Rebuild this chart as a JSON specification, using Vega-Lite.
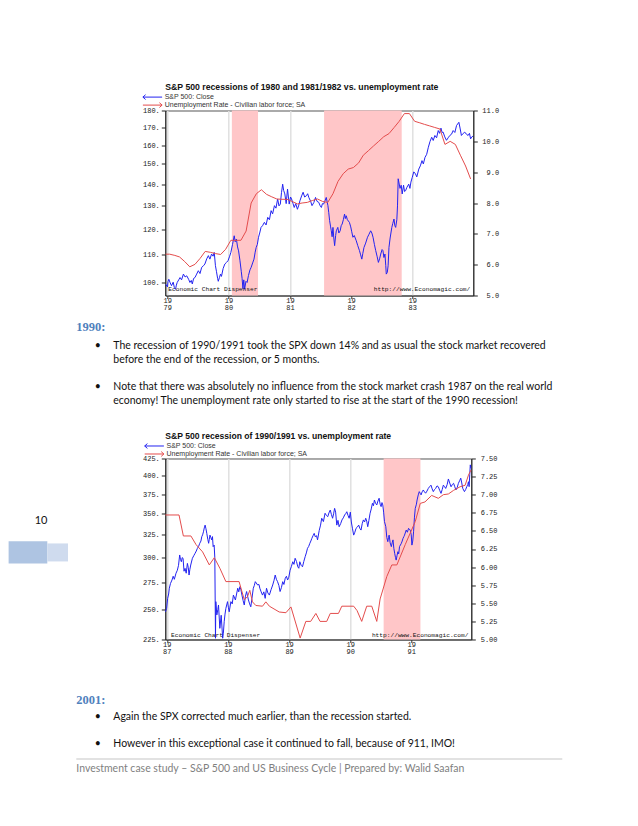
{
"$schema": "https://vega.github.io/schema/vega-lite/v6.json",
"padding": {"left": 8.3, "top": 81.5, "right": 0, "bottom": 0},
"background": "white",
"spacing": 0,
"bounds": "flush",
"config": {"view": {"stroke": null}},
"resolve": {"scale": {"color": "independent"}, "legend": {"color": "independent"}},
"datasets": {
"rec1": [{"start": "1980-01-21", "end": "1980-06-25"}, {"start": "1981-07-24", "end": "1982-10-30"}],
"rec2": [{"start": "1990-07-20", "end": "1991-02-25"}],
"sp1": [
{"date":"1978-12-22","close":99.5},{"date":"1979-01-02","close":98.6},{"date":"1979-01-05","close":100.4},{"date":"1979-01-10","close":101.2},{"date":"1979-01-18","close":100.0},{"date":"1979-01-26","close":99.0},{"date":"1979-02-05","close":100.2},{"date":"1979-02-12","close":98.4},{"date":"1979-02-19","close":97.8},{"date":"1979-02-24","close":99.2},{"date":"1979-03-01","close":100.1},{"date":"1979-03-10","close":101.0},{"date":"1979-03-18","close":101.8},{"date":"1979-03-27","close":101.0},{"date":"1979-04-07","close":103.0},{"date":"1979-04-17","close":102.0},{"date":"1979-04-27","close":102.4},{"date":"1979-05-08","close":101.2},{"date":"1979-05-16","close":100.1},{"date":"1979-05-24","close":100.8},{"date":"1979-05-30","close":99.6},{"date":"1979-06-07","close":101.5},{"date":"1979-06-15","close":101.8},{"date":"1979-06-25","close":103.0},{"date":"1979-07-05","close":104.2},{"date":"1979-07-15","close":103.2},{"date":"1979-07-25","close":105.4},{"date":"1979-08-05","close":106.0},{"date":"1979-08-13","close":106.6},{"date":"1979-08-24","close":108.5},{"date":"1979-09-03","close":109.7},{"date":"1979-09-12","close":108.4},{"date":"1979-09-22","close":110.3},{"date":"1979-10-01","close":109.5},{"date":"1979-10-08","close":110.9},{"date":"1979-10-15","close":106.0},{"date":"1979-10-21","close":104.0},{"date":"1979-10-28","close":101.5},{"date":"1979-11-01","close":100.5},{"date":"1979-11-08","close":101.8},{"date":"1979-11-14","close":103.0},{"date":"1979-11-20","close":102.2},{"date":"1979-11-30","close":105.0},{"date":"1979-12-10","close":106.6},{"date":"1979-12-20","close":107.2},{"date":"1979-12-29","close":107.8},{"date":"1980-01-08","close":109.5},{"date":"1980-01-15","close":110.9},{"date":"1980-01-25","close":114.0},{"date":"1980-02-04","close":117.4},{"date":"1980-02-10","close":115.0},{"date":"1980-02-17","close":116.1},{"date":"1980-02-24","close":113.0},{"date":"1980-03-01","close":111.5},{"date":"1980-03-09","close":108.0},{"date":"1980-03-17","close":104.0},{"date":"1980-03-22","close":101.5},{"date":"1980-03-27","close":98.0},{"date":"1980-04-01","close":101.0},{"date":"1980-04-06","close":97.8},{"date":"1980-04-14","close":100.5},{"date":"1980-04-21","close":100.1},{"date":"1980-04-29","close":102.5},{"date":"1980-05-08","close":104.5},{"date":"1980-05-15","close":105.4},{"date":"1980-05-24","close":107.0},{"date":"1980-06-01","close":108.4},{"date":"1980-06-08","close":111.0},{"date":"1980-06-14","close":112.8},{"date":"1980-06-21","close":114.0},{"date":"1980-06-28","close":116.8},{"date":"1980-07-05","close":118.5},{"date":"1980-07-13","close":120.8},{"date":"1980-07-22","close":121.5},{"date":"1980-08-02","close":122.9},{"date":"1980-08-12","close":121.8},{"date":"1980-08-22","close":125.0},{"date":"1980-09-01","close":124.0},{"date":"1980-09-11","close":127.9},{"date":"1980-09-20","close":126.5},{"date":"1980-10-01","close":130.1},{"date":"1980-10-10","close":129.0},{"date":"1980-10-20","close":133.1},{"date":"1980-10-28","close":130.0},{"date":"1980-11-05","close":130.8},{"date":"1980-11-12","close":136.0},{"date":"1980-11-19","close":140.0},{"date":"1980-11-25","close":137.0},{"date":"1980-12-02","close":135.4},{"date":"1980-12-10","close":131.0},{"date":"1980-12-18","close":137.7},{"date":"1980-12-28","close":130.8},{"date":"1981-01-05","close":134.0},{"date":"1981-01-11","close":133.1},{"date":"1981-01-20","close":131.0},{"date":"1981-01-27","close":129.3},{"date":"1981-02-05","close":131.0},{"date":"1981-02-15","close":128.5},{"date":"1981-02-22","close":130.0},{"date":"1981-03-02","close":132.3},{"date":"1981-03-12","close":134.5},{"date":"1981-03-21","close":136.2},{"date":"1981-03-30","close":134.0},{"date":"1981-04-10","close":134.6},{"date":"1981-04-17","close":135.5},{"date":"1981-04-24","close":133.8},{"date":"1981-05-05","close":132.0},{"date":"1981-05-13","close":130.1},{"date":"1981-05-24","close":131.5},{"date":"1981-06-03","close":133.8},{"date":"1981-06-12","close":132.0},{"date":"1981-06-22","close":131.6},{"date":"1981-07-01","close":130.0},{"date":"1981-07-08","close":129.3},{"date":"1981-07-14","close":131.0},{"date":"1981-07-21","close":130.8},{"date":"1981-07-28","close":132.0},{"date":"1981-08-06","close":133.8},{"date":"1981-08-16","close":130.1},{"date":"1981-08-21","close":127.0},{"date":"1981-08-26","close":123.6},{"date":"1981-09-01","close":121.0},{"date":"1981-09-05","close":119.4},{"date":"1981-09-10","close":117.0},{"date":"1981-09-15","close":120.8},{"date":"1981-09-20","close":116.5},{"date":"1981-09-25","close":113.5},{"date":"1981-10-01","close":117.5},{"date":"1981-10-05","close":119.4},{"date":"1981-10-14","close":120.8},{"date":"1981-10-20","close":118.5},{"date":"1981-10-28","close":119.4},{"date":"1981-11-03","close":121.5},{"date":"1981-11-09","close":122.2},{"date":"1981-11-16","close":124.0},{"date":"1981-11-23","close":126.4},{"date":"1981-11-28","close":124.5},{"date":"1981-12-03","close":125.7},{"date":"1981-12-10","close":124.0},{"date":"1981-12-22","close":122.9},{"date":"1981-12-30","close":121.0},{"date":"1982-01-05","close":119.0},{"date":"1982-01-12","close":116.8},{"date":"1982-01-20","close":117.5},{"date":"1982-02-01","close":115.4},{"date":"1982-02-10","close":113.5},{"date":"1982-02-20","close":111.6},{"date":"1982-02-27","close":110.0},{"date":"1982-03-06","close":108.4},{"date":"1982-03-12","close":110.5},{"date":"1982-03-19","close":112.8},{"date":"1982-03-29","close":114.5},{"date":"1982-04-09","close":116.8},{"date":"1982-04-18","close":118.0},{"date":"1982-04-28","close":119.4},{"date":"1982-05-05","close":118.5},{"date":"1982-05-12","close":116.8},{"date":"1982-05-20","close":114.0},{"date":"1982-05-28","close":111.6},{"date":"1982-06-05","close":109.5},{"date":"1982-06-13","close":107.2},{"date":"1982-06-20","close":108.5},{"date":"1982-06-27","close":110.3},{"date":"1982-07-05","close":112.0},{"date":"1982-07-10","close":111.6},{"date":"1982-07-16","close":109.0},{"date":"1982-07-22","close":110.3},{"date":"1982-07-27","close":106.0},{"date":"1982-07-30","close":103.0},{"date":"1982-08-05","close":103.6},{"date":"1982-08-10","close":106.0},{"date":"1982-08-15","close":112.8},{"date":"1982-08-22","close":116.5},{"date":"1982-09-01","close":120.8},{"date":"1982-09-07","close":122.5},{"date":"1982-09-14","close":124.3},{"date":"1982-09-19","close":121.5},{"date":"1982-09-24","close":120.8},{"date":"1982-10-01","close":124.0},{"date":"1982-10-05","close":130.0},{"date":"1982-10-09","close":142.6},{"date":"1982-10-20","close":138.0},{"date":"1982-10-27","close":139.5},{"date":"1982-11-02","close":135.4},{"date":"1982-11-10","close":139.5},{"date":"1982-11-16","close":136.5},{"date":"1982-11-22","close":136.9},{"date":"1982-11-30","close":138.5},{"date":"1982-12-11","close":140.0},{"date":"1982-12-18","close":138.0},{"date":"1982-12-24","close":141.0},{"date":"1983-01-01","close":143.3},{"date":"1983-01-10","close":146.0},{"date":"1983-01-20","close":145.0},{"date":"1983-01-28","close":143.5},{"date":"1983-02-09","close":147.4},{"date":"1983-02-18","close":149.0},{"date":"1983-02-28","close":151.7},{"date":"1983-03-08","close":150.0},{"date":"1983-03-18","close":153.4},{"date":"1983-03-28","close":155.0},{"date":"1983-04-07","close":158.8},{"date":"1983-04-17","close":162.0},{"date":"1983-04-27","close":164.3},{"date":"1983-05-06","close":162.5},{"date":"1983-05-16","close":165.3},{"date":"1983-05-26","close":164.0},{"date":"1983-06-05","close":168.1},{"date":"1983-06-13","close":166.5},{"date":"1983-06-21","close":169.5},{"date":"1983-06-28","close":167.0},{"date":"1983-07-04","close":167.2},{"date":"1983-07-14","close":164.5},{"date":"1983-07-24","close":162.6},{"date":"1983-08-03","close":164.0},{"date":"1983-08-13","close":165.3},{"date":"1983-08-23","close":166.0},{"date":"1983-09-02","close":168.1},{"date":"1983-09-12","close":167.0},{"date":"1983-09-22","close":171.0},{"date":"1983-10-06","close":172.9},{"date":"1983-10-14","close":169.0},{"date":"1983-10-21","close":165.3},{"date":"1983-11-01","close":166.5},{"date":"1983-11-10","close":167.2},{"date":"1983-11-20","close":166.0},{"date":"1983-11-30","close":165.3},{"date":"1983-12-08","close":166.5},{"date":"1983-12-15","close":163.4},{"date":"1983-12-22","close":164.5},{"date":"1983-12-29","close":164.9}
],
"ur1": [
{"date":"1978-12-22","rate":6.34},{"date":"1979-01-15","rate":6.34},{"date":"1979-02-15","rate":6.3},{"date":"1979-03-15","rate":6.25},{"date":"1979-04-15","rate":6.1},{"date":"1979-05-15","rate":5.93},{"date":"1979-06-15","rate":6.01},{"date":"1979-07-15","rate":6.2},{"date":"1979-08-15","rate":6.43},{"date":"1979-09-15","rate":6.4},{"date":"1979-10-15","rate":6.36},{"date":"1979-11-15","rate":6.33},{"date":"1979-12-15","rate":6.5},{"date":"1980-01-15","rate":6.79},{"date":"1980-02-15","rate":6.79},{"date":"1980-03-15","rate":6.79},{"date":"1980-04-15","rate":7.09},{"date":"1980-05-15","rate":8.0},{"date":"1980-06-15","rate":8.3},{"date":"1980-07-15","rate":8.43},{"date":"1980-08-15","rate":8.28},{"date":"1980-09-15","rate":8.2},{"date":"1980-10-15","rate":8.13},{"date":"1980-11-15","rate":8.12},{"date":"1980-12-15","rate":8.12},{"date":"1981-01-15","rate":8.05},{"date":"1981-02-15","rate":7.97},{"date":"1981-03-15","rate":8.0},{"date":"1981-04-15","rate":8.02},{"date":"1981-05-15","rate":8.08},{"date":"1981-06-15","rate":8.13},{"date":"1981-07-15","rate":8.05},{"date":"1981-08-15","rate":8.02},{"date":"1981-09-15","rate":8.3},{"date":"1981-10-15","rate":8.7},{"date":"1981-11-15","rate":8.95},{"date":"1981-12-15","rate":9.1},{"date":"1982-01-15","rate":9.15},{"date":"1982-02-15","rate":9.3},{"date":"1982-03-15","rate":9.55},{"date":"1982-04-15","rate":9.7},{"date":"1982-05-15","rate":9.85},{"date":"1982-06-15","rate":10.0},{"date":"1982-07-15","rate":10.15},{"date":"1982-08-15","rate":10.25},{"date":"1982-09-15","rate":10.45},{"date":"1982-10-15","rate":10.65},{"date":"1982-11-15","rate":10.9},{"date":"1982-12-15","rate":10.9},{"date":"1983-01-15","rate":10.65},{"date":"1983-02-15","rate":10.6},{"date":"1983-03-15","rate":10.55},{"date":"1983-04-15","rate":10.5},{"date":"1983-05-15","rate":10.45},{"date":"1983-06-15","rate":10.4},{"date":"1983-07-15","rate":9.9},{"date":"1983-08-15","rate":10.0},{"date":"1983-09-15","rate":9.9},{"date":"1983-10-15","rate":9.55},{"date":"1983-11-15","rate":9.2},{"date":"1983-12-15","rate":8.78}
],
"sp2": [
{"date":"1986-12-24","close":248},{"date":"1986-12-31","close":251},{"date":"1987-01-06","close":260},{"date":"1987-01-12","close":264},{"date":"1987-01-16","close":269.4},{"date":"1987-01-23","close":274},{"date":"1987-02-01","close":277.3},{"date":"1987-02-08","close":281},{"date":"1987-02-15","close":278},{"date":"1987-02-25","close":284},{"date":"1987-03-05","close":287},{"date":"1987-03-12","close":292},{"date":"1987-03-19","close":302.8},{"date":"1987-03-24","close":298},{"date":"1987-03-29","close":295.7},{"date":"1987-04-03","close":300},{"date":"1987-04-08","close":299.3},{"date":"1987-04-14","close":286},{"date":"1987-04-20","close":288.9},{"date":"1987-04-27","close":284},{"date":"1987-05-04","close":294},{"date":"1987-05-09","close":290},{"date":"1987-05-14","close":282.2},{"date":"1987-05-19","close":288},{"date":"1987-05-24","close":292.3},{"date":"1987-06-03","close":299.3},{"date":"1987-06-11","close":302},{"date":"1987-06-19","close":304.6},{"date":"1987-06-26","close":307},{"date":"1987-07-03","close":310},{"date":"1987-07-10","close":312},{"date":"1987-07-17","close":315.5},{"date":"1987-07-24","close":318},{"date":"1987-07-29","close":322.9},{"date":"1987-08-03","close":325},{"date":"1987-08-08","close":328.5},{"date":"1987-08-13","close":333},{"date":"1987-08-18","close":336.3},{"date":"1987-08-23","close":332},{"date":"1987-08-28","close":326.7},{"date":"1987-09-03","close":320},{"date":"1987-09-08","close":315.5},{"date":"1987-09-12","close":320},{"date":"1987-09-16","close":324.7},{"date":"1987-09-21","close":322},{"date":"1987-09-26","close":319.3},{"date":"1987-10-01","close":323},{"date":"1987-10-05","close":311.8},{"date":"1987-10-11","close":313.5},{"date":"1987-10-15","close":300},{"date":"1987-10-19","close":226},{"date":"1987-10-21","close":257},{"date":"1987-10-27","close":245.3},{"date":"1987-11-02","close":250},{"date":"1987-11-06","close":254},{"date":"1987-11-14","close":234},{"date":"1987-11-22","close":245},{"date":"1987-12-01","close":226},{"date":"1987-12-05","close":230},{"date":"1987-12-10","close":239.5},{"date":"1987-12-15","close":246},{"date":"1987-12-20","close":251},{"date":"1987-12-30","close":257},{"date":"1988-01-04","close":252},{"date":"1988-01-09","close":248},{"date":"1988-01-19","close":257},{"date":"1988-01-27","close":255},{"date":"1988-02-03","close":263},{"date":"1988-02-15","close":258.5},{"date":"1988-02-22","close":264},{"date":"1988-02-29","close":269.4},{"date":"1988-03-06","close":266},{"date":"1988-03-13","close":270.9},{"date":"1988-03-19","close":268},{"date":"1988-03-25","close":263},{"date":"1988-04-01","close":258},{"date":"1988-04-08","close":254},{"date":"1988-04-15","close":262},{"date":"1988-04-22","close":266.3},{"date":"1988-05-03","close":258.5},{"date":"1988-05-10","close":255},{"date":"1988-05-17","close":252.4},{"date":"1988-05-24","close":260},{"date":"1988-06-01","close":269.4},{"date":"1988-06-07","close":272},{"date":"1988-06-13","close":275.7},{"date":"1988-06-27","close":272.5},{"date":"1988-07-05","close":273},{"date":"1988-07-10","close":269.4},{"date":"1988-07-18","close":266},{"date":"1988-07-26","close":263},{"date":"1988-08-03","close":266},{"date":"1988-08-11","close":260},{"date":"1988-08-19","close":269.4},{"date":"1988-08-27","close":265},{"date":"1988-09-05","close":263},{"date":"1988-09-15","close":268},{"date":"1988-09-25","close":272.5},{"date":"1988-10-03","close":277},{"date":"1988-10-10","close":282.2},{"date":"1988-10-17","close":278},{"date":"1988-10-24","close":275.7},{"date":"1988-11-01","close":272},{"date":"1988-11-08","close":266.3},{"date":"1988-11-16","close":270},{"date":"1988-11-24","close":275.7},{"date":"1988-12-01","close":273},{"date":"1988-12-09","close":279},{"date":"1988-12-16","close":281},{"date":"1988-12-23","close":277.3},{"date":"1988-12-30","close":280},{"date":"1989-01-07","close":287},{"date":"1989-01-15","close":291},{"date":"1989-01-23","close":295.7},{"date":"1989-01-30","close":293},{"date":"1989-02-06","close":299.3},{"date":"1989-02-14","close":296},{"date":"1989-02-22","close":290.5},{"date":"1989-02-28","close":289},{"date":"1989-03-06","close":295.7},{"date":"1989-03-14","close":292},{"date":"1989-03-22","close":290.5},{"date":"1989-03-30","close":296},{"date":"1989-04-07","close":301},{"date":"1989-04-14","close":305},{"date":"1989-04-21","close":310},{"date":"1989-04-28","close":312},{"date":"1989-05-05","close":315.5},{"date":"1989-05-11","close":318},{"date":"1989-05-17","close":321},{"date":"1989-05-24","close":324},{"date":"1989-05-31","close":326.7},{"date":"1989-06-06","close":322.9},{"date":"1989-06-14","close":324},{"date":"1989-06-20","close":319.3},{"date":"1989-06-30","close":330},{"date":"1989-07-08","close":336.3},{"date":"1989-07-15","close":344.5},{"date":"1989-07-25","close":340.5},{"date":"1989-08-04","close":350.6},{"date":"1989-08-12","close":348},{"date":"1989-08-20","close":346.4},{"date":"1989-08-27","close":351},{"date":"1989-09-04","close":354.6},{"date":"1989-09-11","close":349},{"date":"1989-09-18","close":344.5},{"date":"1989-09-24","close":350},{"date":"1989-09-30","close":356.7},{"date":"1989-10-06","close":352},{"date":"1989-10-13","close":336.3},{"date":"1989-10-20","close":342},{"date":"1989-10-27","close":334.4},{"date":"1989-11-05","close":338},{"date":"1989-11-13","close":342.5},{"date":"1989-11-21","close":345},{"date":"1989-11-29","close":348.5},{"date":"1989-12-05","close":350},{"date":"1989-12-12","close":352.5},{"date":"1989-12-19","close":348},{"date":"1989-12-26","close":344.5},{"date":"1990-01-02","close":352},{"date":"1990-01-08","close":340},{"date":"1990-01-15","close":332},{"date":"1990-01-22","close":324.7},{"date":"1990-01-29","close":328},{"date":"1990-02-05","close":332.5},{"date":"1990-02-13","close":334},{"date":"1990-02-21","close":336.3},{"date":"1990-03-01","close":332},{"date":"1990-03-07","close":330.5},{"date":"1990-03-14","close":338},{"date":"1990-03-21","close":342.5},{"date":"1990-03-28","close":340},{"date":"1990-04-04","close":344.5},{"date":"1990-04-10","close":341},{"date":"1990-04-16","close":334.4},{"date":"1990-04-23","close":342},{"date":"1990-04-30","close":350.6},{"date":"1990-05-07","close":356},{"date":"1990-05-14","close":363.1},{"date":"1990-05-20","close":360},{"date":"1990-05-26","close":367.3},{"date":"1990-06-02","close":363},{"date":"1990-06-09","close":361},{"date":"1990-06-16","close":366},{"date":"1990-06-23","close":369.6},{"date":"1990-06-29","close":362},{"date":"1990-07-05","close":358.9},{"date":"1990-07-10","close":364},{"date":"1990-07-15","close":361},{"date":"1990-07-20","close":352},{"date":"1990-07-25","close":340.5},{"date":"1990-08-02","close":334.4},{"date":"1990-08-08","close":322},{"date":"1990-08-14","close":317.3},{"date":"1990-08-18","close":322},{"date":"1990-08-22","close":324.7},{"date":"1990-08-28","close":316},{"date":"1990-09-04","close":311.8},{"date":"1990-09-09","close":316},{"date":"1990-09-14","close":319.3},{"date":"1990-09-19","close":310},{"date":"1990-09-24","close":304.6},{"date":"1990-09-29","close":300},{"date":"1990-10-03","close":297.4},{"date":"1990-10-08","close":302},{"date":"1990-10-13","close":306.3},{"date":"1990-10-18","close":304},{"date":"1990-10-23","close":311.8},{"date":"1990-11-03","close":315.5},{"date":"1990-11-08","close":318},{"date":"1990-11-13","close":321},{"date":"1990-11-18","close":323},{"date":"1990-11-22","close":324.7},{"date":"1990-12-02","close":330.5},{"date":"1990-12-09","close":328},{"date":"1990-12-16","close":332.5},{"date":"1990-12-26","close":330.5},{"date":"1991-01-01","close":325},{"date":"1991-01-05","close":313.5},{"date":"1991-01-10","close":318},{"date":"1991-01-15","close":328.5},{"date":"1991-01-20","close":345},{"date":"1991-01-25","close":356.7},{"date":"1991-02-01","close":362},{"date":"1991-02-05","close":367.3},{"date":"1991-02-12","close":374},{"date":"1991-02-18","close":378.3},{"date":"1991-02-24","close":376},{"date":"1991-03-01","close":374},{"date":"1991-03-07","close":378},{"date":"1991-03-14","close":380.5},{"date":"1991-03-21","close":378},{"date":"1991-03-28","close":376.2},{"date":"1991-04-05","close":379},{"date":"1991-04-13","close":382.6},{"date":"1991-04-21","close":385},{"date":"1991-04-29","close":387},{"date":"1991-05-06","close":382},{"date":"1991-05-13","close":378.3},{"date":"1991-05-20","close":381},{"date":"1991-05-27","close":382.6},{"date":"1991-06-04","close":386},{"date":"1991-06-12","close":384.8},{"date":"1991-06-20","close":380},{"date":"1991-06-28","close":376},{"date":"1991-07-05","close":381},{"date":"1991-07-12","close":387},{"date":"1991-07-19","close":385},{"date":"1991-07-26","close":382.6},{"date":"1991-08-04","close":388},{"date":"1991-08-11","close":395.5},{"date":"1991-08-19","close":390},{"date":"1991-08-27","close":384.8},{"date":"1991-09-04","close":388},{"date":"1991-09-11","close":389.5},{"date":"1991-09-18","close":385},{"date":"1991-09-25","close":380.5},{"date":"1991-10-03","close":384},{"date":"1991-10-10","close":389.5},{"date":"1991-10-17","close":393},{"date":"1991-10-24","close":396.6},{"date":"1991-10-30","close":390},{"date":"1991-11-05","close":382.6},{"date":"1991-11-15","close":378.3},{"date":"1991-11-22","close":381},{"date":"1991-11-29","close":384.8},{"date":"1991-12-05","close":388},{"date":"1991-12-09","close":391.7},{"date":"1991-12-13","close":385},{"date":"1991-12-17","close":402},{"date":"1991-12-20","close":415.6},{"date":"1991-12-24","close":410.6}
],
"ur2": [
{"date":"1986-12-23","rate":6.72},{"date":"1987-03-15","rate":6.72},{"date":"1987-04-10","rate":6.43},{"date":"1987-05-25","rate":6.43},{"date":"1987-06-25","rate":6.31},{"date":"1987-08-03","rate":6.21},{"date":"1987-09-12","rate":6.03},{"date":"1987-10-12","rate":6.13},{"date":"1987-11-15","rate":5.98},{"date":"1987-12-20","rate":5.8},{"date":"1988-03-08","rate":5.8},{"date":"1988-04-08","rate":5.55},{"date":"1988-04-27","rate":5.59},{"date":"1988-05-11","rate":5.68},{"date":"1988-05-27","rate":5.52},{"date":"1988-06-16","rate":5.47},{"date":"1988-07-26","rate":5.46},{"date":"1988-08-15","rate":5.52},{"date":"1988-09-05","rate":5.46},{"date":"1988-11-03","rate":5.38},{"date":"1988-12-13","rate":5.37},{"date":"1989-01-12","rate":5.45},{"date":"1989-03-08","rate":5.02},{"date":"1989-04-11","rate":5.25},{"date":"1989-05-10","rate":5.25},{"date":"1989-06-10","rate":5.36},{"date":"1989-07-05","rate":5.25},{"date":"1989-08-14","rate":5.25},{"date":"1989-09-04","rate":5.36},{"date":"1989-10-23","rate":5.36},{"date":"1989-11-12","rate":5.46},{"date":"1990-01-22","rate":5.46},{"date":"1990-02-11","rate":5.4},{"date":"1990-03-11","rate":5.25},{"date":"1990-04-10","rate":5.46},{"date":"1990-05-10","rate":5.46},{"date":"1990-06-09","rate":5.25},{"date":"1990-06-29","rate":5.56},{"date":"1990-08-08","rate":5.87},{"date":"1990-09-07","rate":6.03},{"date":"1990-10-07","rate":6.03},{"date":"1990-11-26","rate":6.31},{"date":"1990-12-26","rate":6.47},{"date":"1991-01-25","rate":6.63},{"date":"1991-02-24","rate":6.88},{"date":"1991-03-24","rate":6.9},{"date":"1991-05-03","rate":6.99},{"date":"1991-06-12","rate":6.95},{"date":"1991-07-12","rate":7.0},{"date":"1991-08-11","rate":7.01},{"date":"1991-09-11","rate":7.06},{"date":"1991-10-20","rate":7.11},{"date":"1991-11-19","rate":7.13},{"date":"1991-12-09","rate":7.27},{"date":"1991-12-24","rate":7.34}
],
"wm": [{"label": "Economic Chart Dispenser"}, {"label": "http://www.Economagic.com/"}],
"textA": [
{"role":"heading","indent":0,"line":0,"text":"1990:"},
{"role":"bullet","indent":1,"line":1.29,"text":"•"},
{"role":"body","indent":2,"line":1.29,"text":"The recession of 1990/1991 took the SPX down 14% and as usual the stock market recovered"},
{"role":"body","indent":2,"line":2.29,"text":"before the end of the recession, or 5 months."},
{"role":"bullet","indent":1,"line":4.2,"text":"•"},
{"role":"body","indent":2,"line":4.2,"text":"Note that there was absolutely no influence from the stock market crash 1987 on the real world"},
{"role":"body","indent":2,"line":5.15,"text":"economy! The unemployment rate only started to rise at the start of the 1990 recession!"},
{"role":"page","indent":-1.908,"line":13.49,"text":"10"}
],
"ribbon": [
{"part":"left","indent":-3.659,"indent2":-1.567,"line":14.875,"line2":16.42},
{"part":"right","indent":-1.567,"indent2":-0.448,"line":15.03,"line2":16.28}
],
"textB": [
{"role":"heading","indent":0,"line":0,"text":"2001:"},
{"role":"bullet","indent":1,"line":1.19,"text":"•"},
{"role":"body","indent":2,"line":1.19,"text":"Again the SPX corrected much earlier, than the recession started."},
{"role":"bullet","indent":1,"line":3.09,"text":"•"},
{"role":"body","indent":2,"line":3.09,"text":"However in this exceptional case it continued to fall, because of 911, IMO!"},
{"role":"rule","indent":0,"indent2":26.27,"line":4.1,"text":""},
{"role":"footer","indent":0,"line":4.78,"text":"Investment case study – S&P 500 and US Business Cycle | Prepared by: Walid Saafan"}
]
},
"vconcat": [
{
"width": 308, "height": 185,
"view": {"stroke": "#555", "strokeWidth": 1},
"title": {"text": "S&P 500 recessions of 1980 and 1981/1982 vs. unemployment rate", "anchor": "start", "frame": "group", "font": "Liberation Sans", "fontSize": 8.7, "fontWeight": "bold", "color": "#111", "offset": -7, "baseline": "bottom"},
"layer": [
{"data": {"name": "rec1"}, "mark": {"type": "rect", "color": "#ffc6c8"},
 "encoding": {
  "x": {"field": "start", "type": "temporal", "scale": {"domain": [{"year":1978,"month":12,"date":20},{"year":1983,"month":12,"date":31}]},
        "axis": {"values": [{"year":1979},{"year":1980},{"year":1981},{"year":1982},{"year":1983}], "labelExpr": "['19', timeFormat(datum.value, '%y')]", "title": null, "grid": true, "gridColor": "#e0e0e0", "gridWidth": 1.5, "domainColor": "#333", "tickColor": "#333", "tickSize": 3, "labelPadding": -2, "labelFont": "Liberation Mono", "labelFontSize": 7, "labelLineHeight": 7.5, "labelColor": "#222", "labelFlush": false, "labelOverlap": false}},
  "x2": {"field": "end"}}},
{"data": {"name": "sp1"}, "mark": {"type": "line", "strokeWidth": 1},
 "encoding": {
  "x": {"field": "date", "type": "temporal", "scale": {"domain": [{"year":1978,"month":12,"date":20},{"year":1983,"month":12,"date":31}]}},
  "y": {"field": "close", "type": "quantitative", "scale": {"type": "log", "domain": [95.75, 180], "nice": false},
   "axis": {"orient": "left", "values": [100,110,120,130,140,150,160,170,180], "labelExpr": "datum.value + '.'", "title": null, "grid": false, "tickSize": 4, "labelPadding": 2, "labelFont": "Liberation Mono", "labelFontSize": 7, "labelColor": "#222", "domainColor": "#222", "tickColor": "#222", "labelFlush": false, "labelOverlap": false}},
  "color": {"datum": "S&P 500: Close", "type": "nominal",
    "scale": {"domain": ["S&P 500: Close", "Unemployment Rate - Civilian labor force; SA"], "range": ["#2222f0", "#e34b4b"]},
    "legend": {"orient": "none", "legendX": -16.3, "legendY": -16.9, "title": null, "direction": "vertical", "symbolType": "M-3.2,0L3.2,0M-3.2,0L-2.3,-0.8M-3.2,0L-2.3,0.8", "symbolSize": 36, "symbolStrokeWidth": 1, "labelFont": "Liberation Sans", "labelFontSize": 7, "labelColor": "#333", "labelOffset": 8.7, "rowPadding": -1, "padding": 0,
      "encode": {"symbols": {"update": {"shape": {"signal": "datum.index === 1 ? 'M3.2,0L-3.2,0M3.2,0L2.3,-0.8M3.2,0L2.3,0.8' : 'M-3.2,0L3.2,0M-3.2,0L-2.3,-0.8M-3.2,0L-2.3,0.8'"}}}}}}}},
{"data": {"name": "wm"}, "transform": [{"filter": "datum.label === 'Economic Chart Dispenser'"}],
 "mark": {"type": "text", "align": "left", "baseline": "middle", "font": "Liberation Mono", "fontSize": 6.2, "color": "#111"},
 "encoding": {"x": {"datum": {"year":1979,"month":1,"date":7}, "type": "temporal"},
  "y": {"datum": 97.8, "type": "quantitative", "scale": {"type": "log", "domain": [95.75, 180], "nice": false}, "axis": null},
  "text": {"field": "label"}}},
{"data": {"name": "wm"}, "transform": [{"filter": "datum.label !== 'Economic Chart Dispenser'"}],
 "mark": {"type": "text", "align": "right", "baseline": "middle", "font": "Liberation Mono", "fontSize": 6.2, "color": "#111"},
 "encoding": {"x": {"datum": {"year":1983,"month":12,"date":13}, "type": "temporal"},
  "y": {"datum": 97.8, "type": "quantitative", "scale": {"type": "log", "domain": [95.75, 180], "nice": false}, "axis": null},
  "text": {"field": "label"}}},
{"data": {"name": "ur1"}, "mark": {"type": "line", "strokeWidth": 1},
 "encoding": {
  "x": {"field": "date", "type": "temporal", "scale": {"domain": [{"year":1978,"month":12,"date":20},{"year":1983,"month":12,"date":31}]}},
  "y": {"field": "rate", "type": "quantitative", "scale": {"domain": [5, 11], "nice": false, "zero": false},
   "axis": {"orient": "right", "values": [5,6,7,8,9,10,11], "format": ".1f", "title": null, "grid": false, "tickSize": 4, "labelAlign": "right", "labelPadding": 21.3, "labelFont": "Liberation Mono", "labelFontSize": 7, "labelColor": "#222", "domainColor": "#222", "tickColor": "#222", "labelFlush": false, "labelOverlap": false}},
  "color": {"datum": "Unemployment Rate - Civilian labor force; SA", "type": "nominal"}}}
],
"resolve": {"scale": {"y": "independent"}}
},
{
"width": 473, "height": 162.5,
"data": {"name": "textA"},
"encoding": {
 "x": {"field": "indent", "type": "quantitative", "scale": {"domain": [4.811, 30.379], "nice": false, "zero": false}, "axis": null},
 "y": {"field": "line", "type": "quantitative", "scale": {"domain": [-2.1875, 9.0972], "nice": false, "zero": false, "reverse": true}, "axis": null}
},
"layer": [
 {"transform": [{"filter": "datum.role === 'heading'"}], "mark": {"type": "text", "align": "left", "baseline": "middle", "font": "Liberation Serif", "fontWeight": "bold", "fontSize": 12.5, "color": "#4f81bd"}, "encoding": {"text": {"field": "text"}}},
 {"transform": [{"filter": "datum.role === 'bullet' || datum.role === 'body'"}], "mark": {"type": "text", "align": "left", "baseline": "middle", "font": "Lato", "fontSize": 10.5, "color": "#111"}, "encoding": {"text": {"field": "text"}}},
 {"transform": [{"filter": "datum.role === 'page'"}], "mark": {"type": "text", "align": "center", "baseline": "middle", "font": "Lato", "fontSize": 11, "color": "#111"}, "encoding": {"text": {"field": "text"}}},
 {"data": {"name": "ribbon"}, "mark": {"type": "rect"},
  "encoding": {"x2": {"field": "indent2"}, "y2": {"field": "line2"},
   "color": {"condition": {"test": "datum.part === 'left'", "value": "#aec4e2"}, "value": "#cfdbee"}}}
]
},
{
"width": 306, "height": 181,
"view": {"stroke": "#555", "strokeWidth": 1},
"title": {"text": "S&P 500 recession of 1990/1991 vs. unemployment rate", "anchor": "start", "frame": "group", "font": "Liberation Sans", "fontSize": 8.6, "fontWeight": "bold", "color": "#111", "offset": -7, "baseline": "bottom"},
"layer": [
{"data": {"name": "rec2"}, "mark": {"type": "rect", "color": "#ffc6c8"},
 "encoding": {
  "x": {"field": "start", "type": "temporal", "scale": {"domain": [{"year":1986,"month":12,"date":23},{"year":1991,"month":12,"date":26}]},
        "axis": {"values": [{"year":1987},{"year":1988},{"year":1989},{"year":1990},{"year":1991}], "labelExpr": "['19', timeFormat(datum.value, '%y')]", "title": null, "grid": true, "gridColor": "#e0e0e0", "gridWidth": 1.5, "domainColor": "#333", "tickColor": "#333", "tickSize": 3, "labelPadding": -2, "labelFont": "Liberation Mono", "labelFontSize": 7, "labelLineHeight": 7.5, "labelColor": "#222", "labelFlush": false, "labelOverlap": false}},
  "x2": {"field": "end"}}},
{"data": {"name": "sp2"}, "mark": {"type": "line", "strokeWidth": 1},
 "encoding": {
  "x": {"field": "date", "type": "temporal", "scale": {"domain": [{"year":1986,"month":12,"date":23},{"year":1991,"month":12,"date":26}]}},
  "y": {"field": "close", "type": "quantitative", "scale": {"type": "log", "domain": [225, 425], "nice": false},
   "axis": {"orient": "left", "values": [225,250,275,300,325,350,375,400,425], "labelExpr": "datum.value + '.'", "title": null, "grid": false, "tickSize": 4, "labelPadding": 2, "labelFont": "Liberation Mono", "labelFontSize": 7, "labelColor": "#222", "domainColor": "#222", "tickColor": "#222", "labelFlush": false, "labelOverlap": false}},
  "color": {"datum": "S&P 500: Close", "type": "nominal",
    "scale": {"domain": ["S&P 500: Close", "Unemployment Rate - Civilian labor force; SA"], "range": ["#2222f0", "#e34b4b"]},
    "legend": {"orient": "none", "legendX": -14.5, "legendY": -16, "title": null, "direction": "vertical", "symbolType": "M-3.2,0L3.2,0M-3.2,0L-2.3,-0.8M-3.2,0L-2.3,0.8", "symbolSize": 36, "symbolStrokeWidth": 1, "labelFont": "Liberation Sans", "labelFontSize": 7, "labelColor": "#333", "labelOffset": 8.7, "rowPadding": -1.7, "padding": 0,
      "encode": {"symbols": {"update": {"shape": {"signal": "datum.index === 1 ? 'M3.2,0L-3.2,0M3.2,0L2.3,-0.8M3.2,0L2.3,0.8' : 'M-3.2,0L3.2,0M-3.2,0L-2.3,-0.8M-3.2,0L-2.3,0.8'"}}}}}}}},
{"data": {"name": "wm"}, "transform": [{"filter": "datum.label === 'Economic Chart Dispenser'"}],
 "mark": {"type": "text", "align": "left", "baseline": "middle", "font": "Liberation Mono", "fontSize": 6.2, "color": "#111"},
 "encoding": {"x": {"datum": {"year":1987,"month":1,"date":26}, "type": "temporal"},
  "y": {"datum": 228.6, "type": "quantitative", "scale": {"type": "log", "domain": [225, 425], "nice": false}, "axis": null},
  "text": {"field": "label"}}},
{"data": {"name": "wm"}, "transform": [{"filter": "datum.label !== 'Economic Chart Dispenser'"}],
 "mark": {"type": "text", "align": "right", "baseline": "middle", "font": "Liberation Mono", "fontSize": 6.2, "color": "#111"},
 "encoding": {"x": {"datum": {"year":1991,"month":12,"date":9}, "type": "temporal"},
  "y": {"datum": 228.6, "type": "quantitative", "scale": {"type": "log", "domain": [225, 425], "nice": false}, "axis": null},
  "text": {"field": "label"}}},
{"data": {"name": "ur2"}, "mark": {"type": "line", "strokeWidth": 1},
 "encoding": {
  "x": {"field": "date", "type": "temporal", "scale": {"domain": [{"year":1986,"month":12,"date":23},{"year":1991,"month":12,"date":26}]}},
  "y": {"field": "rate", "type": "quantitative", "scale": {"domain": [5, 7.5], "nice": false, "zero": false},
   "axis": {"orient": "right", "values": [5,5.25,5.5,5.75,6,6.25,6.5,6.75,7,7.25,7.5], "format": ".2f", "title": null, "grid": false, "tickSize": 4, "labelAlign": "right", "labelPadding": 21.7, "labelFont": "Liberation Mono", "labelFontSize": 7, "labelColor": "#222", "domainColor": "#222", "tickColor": "#222", "labelFlush": false, "labelOverlap": false}},
  "color": {"datum": "Unemployment Rate - Civilian labor force; SA", "type": "nominal"}}}
],
"resolve": {"scale": {"y": "independent"}}
},
{
"width": 473, "height": 186.5,
"data": {"name": "textB"},
"encoding": {
 "x": {"field": "indent", "type": "quantitative", "scale": {"domain": [4.811, 30.379], "nice": false, "zero": false}, "axis": null},
 "y": {"field": "line", "type": "quantitative", "scale": {"domain": [-4.2014, 8.75], "nice": false, "zero": false, "reverse": true}, "axis": null}
},
"layer": [
 {"transform": [{"filter": "datum.role === 'heading'"}], "mark": {"type": "text", "align": "left", "baseline": "middle", "font": "Liberation Serif", "fontWeight": "bold", "fontSize": 12.5, "color": "#4f81bd"}, "encoding": {"text": {"field": "text"}}},
 {"transform": [{"filter": "datum.role === 'bullet' || datum.role === 'body'"}], "mark": {"type": "text", "align": "left", "baseline": "middle", "font": "Lato", "fontSize": 10.5, "color": "#111"}, "encoding": {"text": {"field": "text"}}},
 {"transform": [{"filter": "datum.role === 'rule'"}], "mark": {"type": "rule", "color": "#d9d9d9", "strokeWidth": 1.5}, "encoding": {"x2": {"field": "indent2"}}},
 {"transform": [{"filter": "datum.role === 'footer'"}], "mark": {"type": "text", "align": "left", "baseline": "middle", "font": "Lato", "fontSize": 10.5, "color": "#7f7f7f"}, "encoding": {"text": {"field": "text"}}}
]
}
]
}
